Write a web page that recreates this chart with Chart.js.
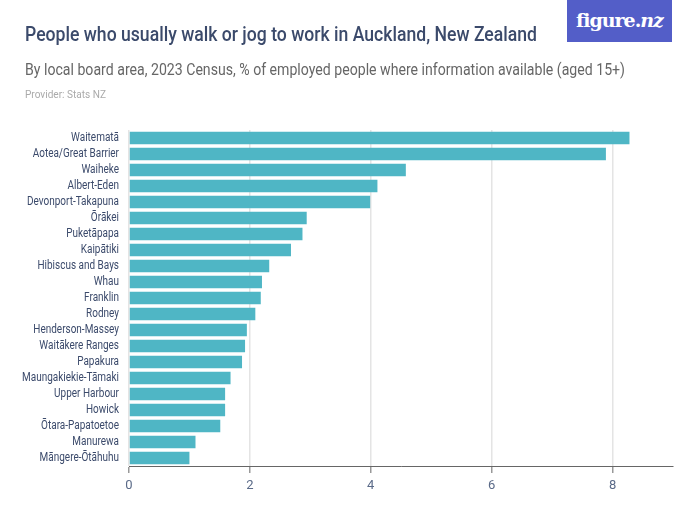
<!DOCTYPE html>
<html>
<head>
<meta charset="utf-8">
<script src="https://cdn.jsdelivr.net/npm/chart.js@4.4.0/dist/chart.umd.min.js"></script>
<style>
  body { margin: 0; background: #fff; }
  #wrap { position: relative; width: 700px; height: 525px; overflow: hidden; }
  #chart { position: absolute; left: 0; top: 0; }
  .fit { position: absolute; left: 25px; white-space: nowrap; transform-origin: 0 0; font-family: Roboto, sans-serif; }
  .title { top: 22px; font-size: 21px; font-weight: 500; color: #3b4a6b; }
  .sub { top: 59px; font-size: 17px; color: #666; }
  .prov { top: 88px; font-size: 11px; color: #aaa; }
  .logo { position: absolute; left: 567px; top: 0; width: 105px; height: 42px; background: #535ec8; color: #fff;
          font: bold 19px 'DejaVu Serif', serif; text-align: center; line-height: 40px; letter-spacing: -1px; }
</style>
</head>
<body>
<div id="wrap">
  <canvas id="chart" width="700" height="525"></canvas>
  <div class="fit title" data-w="512">People who usually walk or jog to work in Auckland, New Zealand</div>
  <div class="fit sub" data-w="600">By local board area, 2023 Census, % of employed people where information available (aged 15+)</div>
  <div class="fit prov" data-w="81">Provider: Stats NZ</div>
  <div class="logo">figure.<i>nz</i></div>
</div>
<script>
// ----------------------------
// Data
// ----------------------------
var boards = [
    'Waitematā', 'Aotea/Great Barrier', 'Waiheke', 'Albert-Eden', 'Devonport-Takapuna',
    'Ōrākei', 'Puketāpapa', 'Kaipātiki', 'Hibiscus and Bays', 'Whau', 'Franklin',
    'Rodney', 'Henderson-Massey', 'Waitākere Ranges', 'Papakura', 'Maungakiekie-Tāmaki',
    'Upper Harbour', 'Howick', 'Ōtara-Papatoetoe', 'Manurewa', 'Māngere-Ōtāhuhu'
];
var walkPct = [
    8.28, 7.89, 4.58, 4.11, 3.99,
    2.94, 2.87, 2.68, 2.32, 2.20, 2.18,
    2.09, 1.95, 1.92, 1.87, 1.68,
    1.59, 1.59, 1.51, 1.10, 1.00
];
var xTicks = [0, 2, 4, 6, 8];

// ----------------------------
// Squeeze header text to the narrow look of the original
// ----------------------------
document.querySelectorAll('.fit').forEach(function (el) {
    var w = el.getBoundingClientRect().width;
    el.style.transform = 'scaleX(' + (parseFloat(el.dataset.w) / w) + ')';
});

var labelFont = '12.5px Roboto, sans-serif';

// y labels drawn condensed, positioned by the category scale
var condensedLabels = {
    id: 'condensedLabels',
    afterDraw: function (chart) {
        var ctx = chart.ctx;
        var yScale = chart.scales.y;
        ctx.save();
        ctx.font = labelFont;
        var sx = 92 / ctx.measureText('Devonport-Takapuna').width;
        ctx.fillStyle = '#3b4a6b';
        ctx.textAlign = 'right';
        ctx.textBaseline = 'middle';
        chart.data.labels.forEach(function (lbl, i) {
            ctx.save();
            ctx.translate(yScale.right - 10, yScale.getPixelForTick(i));
            ctx.scale(sx, 1);
            ctx.fillText(lbl, 0, 0);
            ctx.restore();
        });
        ctx.restore();
    }
};

new Chart(document.getElementById('chart').getContext('2d'), {
    type: 'bar',
    data: {
        labels: boards,
        datasets: [{
            data: walkPct,
            backgroundColor: '#4fb6c5',
            barPercentage: 0.78,
            categoryPercentage: 1.0
        }]
    },
    options: {
        indexAxis: 'y',
        responsive: false,
        animation: false,
        layout: { padding: { left: 0, right: 27, top: 130, bottom: 0 } },
        plugins: { legend: { display: false }, tooltip: { enabled: false } },
        scales: {
            x: {
                min: 0,
                max: 9,
                afterBuildTicks: function (scale) {
                    scale.ticks = xTicks.map(function (v) { return { value: v }; });
                },
                afterFit: function (scale) { scale.height = 59; },
                grid: { color: '#e4e4e4', lineWidth: 1.5, tickLength: 7, tickColor: '#999' },
                border: { color: '#666', width: 1 },
                ticks: { color: '#5a6a88', font: { family: 'Roboto, sans-serif', size: 13 }, padding: 5 }
            },
            y: {
                afterFit: function (scale) { scale.width = 129; },
                grid: { display: false },
                border: { display: false },
                ticks: { display: false }
            }
        }
    },
    plugins: [condensedLabels]
});
</script>
</body>
</html>
